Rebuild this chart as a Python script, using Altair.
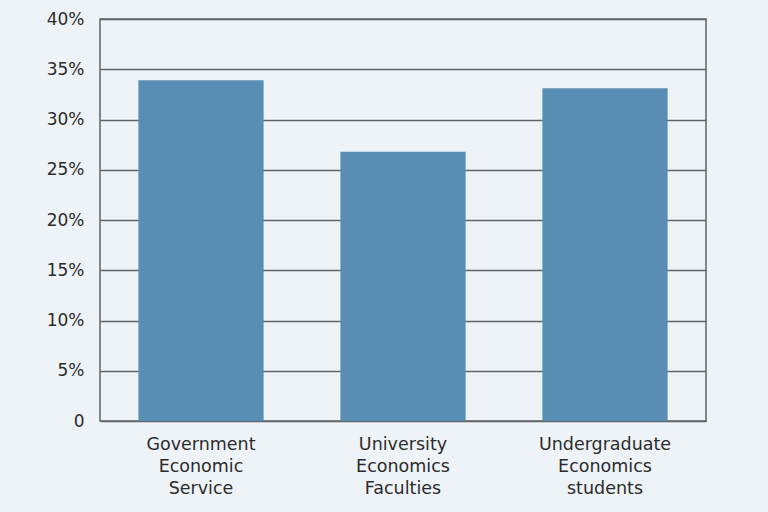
import altair as alt
import pandas as pd

categories = ["Government\nEconomic\nService", "University\nEconomics\nFaculties", "Undergraduate\nEconomics\nstudents"]
values = [0.339, 0.268, 0.331]

df = pd.DataFrame({"cat": categories, "val": values})

FONT = "DejaVu Sans"
LINE = "#5f6468"

chart = alt.Chart(df).mark_bar(color="#588eb3").encode(
    x=alt.X("cat:N", sort=categories, title=None,
            scale=alt.Scale(paddingInner=0.38, paddingOuter=0.19),
            axis=alt.Axis(labelExpr="split(datum.label, '\\n')", labelAngle=0,
                          labelFontSize=17.5, labelColor="#2b2b2b", labelFont=FONT,
                          labelLineHeight=22, labelPadding=14, ticks=False,
                          domain=False)),
    y=alt.Y("val:Q", title=None,
            scale=alt.Scale(domain=[0, 0.4], nice=False),
            axis=alt.Axis(values=[0, 0.05, 0.1, 0.15, 0.2, 0.25, 0.3, 0.35, 0.4],
                          labelExpr="datum.value == 0 ? '0' : format(datum.value, '.0%')",
                          labelFontSize=17, labelColor="#2b2b2b", labelFont=FONT,
                          labelPadding=16, ticks=False, domain=False,
                          grid=True, gridColor=LINE, gridWidth=1.5, gridOpacity=1)),
).properties(
    width=606, height=402,
    background="#eef3f8",
    padding={"left": 100, "top": 19, "right": 62, "bottom": 91},
    autosize=alt.AutoSizeParams(type="none"),
).configure_view(stroke=LINE, strokeWidth=1.5)

chart.save("out.html", embed_options={"renderer": "svg", "actions": False})
